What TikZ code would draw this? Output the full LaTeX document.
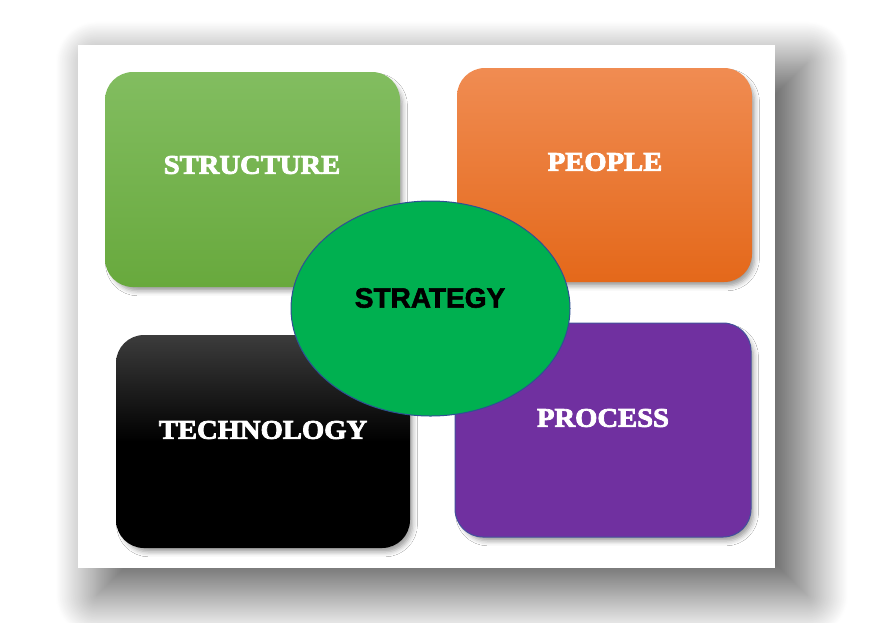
\documentclass[tikz,border=0pt]{standalone}
\usepackage{fontspec}
\setmainfont{Liberation Serif}
\newfontfamily\algfont[FakeBold=3,FakeStretch=1.06]{Liberation Serif Bold}
\newfontfamily\strfont[FakeBold=2]{Liberation Sans Bold}
\usetikzlibrary{shadows.blur,shapes.geometric}
\definecolor{grnT}{HTML}{82BD60}
\definecolor{grnB}{HTML}{68A93D}
\definecolor{orgT}{HTML}{F08C52}
\definecolor{orgB}{HTML}{E4681A}
\definecolor{blkT}{HTML}{3C3C3C}
\definecolor{prp}{HTML}{7030A0}
\definecolor{prpEdge}{HTML}{44509C}
\definecolor{ellG}{HTML}{00B050}
\definecolor{ellEdge}{HTML}{2F4F94}
\tikzset{
  tile/.style={rounded corners=28pt, blur shadow={shadow xshift=4pt, shadow yshift=-5pt, shadow blur radius=5pt, shadow opacity=40, shadow scale=0.99}},
  lbl/.style={font=\algfont\fontsize{27}{30}\selectfont, text=white, inner sep=0pt},
}
\begin{document}
\begin{tikzpicture}[x=1pt,y=-1pt]
\useasboundingbox (0,0) rectangle (893,622);
% page with shadow
\path[fill=white, blur shadow={shadow xshift=25pt, shadow yshift=-22pt, shadow blur radius=40pt, shadow opacity=62, shadow blur steps=60, shadow scale=1.02}] (78,45) rectangle (775,568);
% tiles
\path[tile, top color=grnT, bottom color=grnB] (105,72) rectangle (400,287);
\path[tile, top color=orgT, bottom color=orgB] (457,68) rectangle (752,282);
\path[tile, top color=blkT, bottom color=black, middle color=black] (116,335) rectangle (410,548);
\path[tile, fill=prp, draw=prpEdge, line width=1pt] (455,323) rectangle (751,537);
% labels
\node[lbl] (structure) at (252,165) {STRUCTURE};
\node[lbl] (people) at (605,162) {PEOPLE};
\node[lbl] (technology) at (263,430) {TECHNOLOGY};
\node[lbl] (process) at (603,418) {PROCESS};
% ellipse
\node[ellipse, fill=ellG, draw=ellEdge, line width=1pt, minimum width=279pt, minimum height=215pt, inner sep=0pt] (strategy) at (430.5,308.5) {};
\node[font=\strfont\fontsize{28}{30}\selectfont, inner sep=0pt] (strategylbl) at (430,298) {STRATEGY};
\end{tikzpicture}
\end{document}
